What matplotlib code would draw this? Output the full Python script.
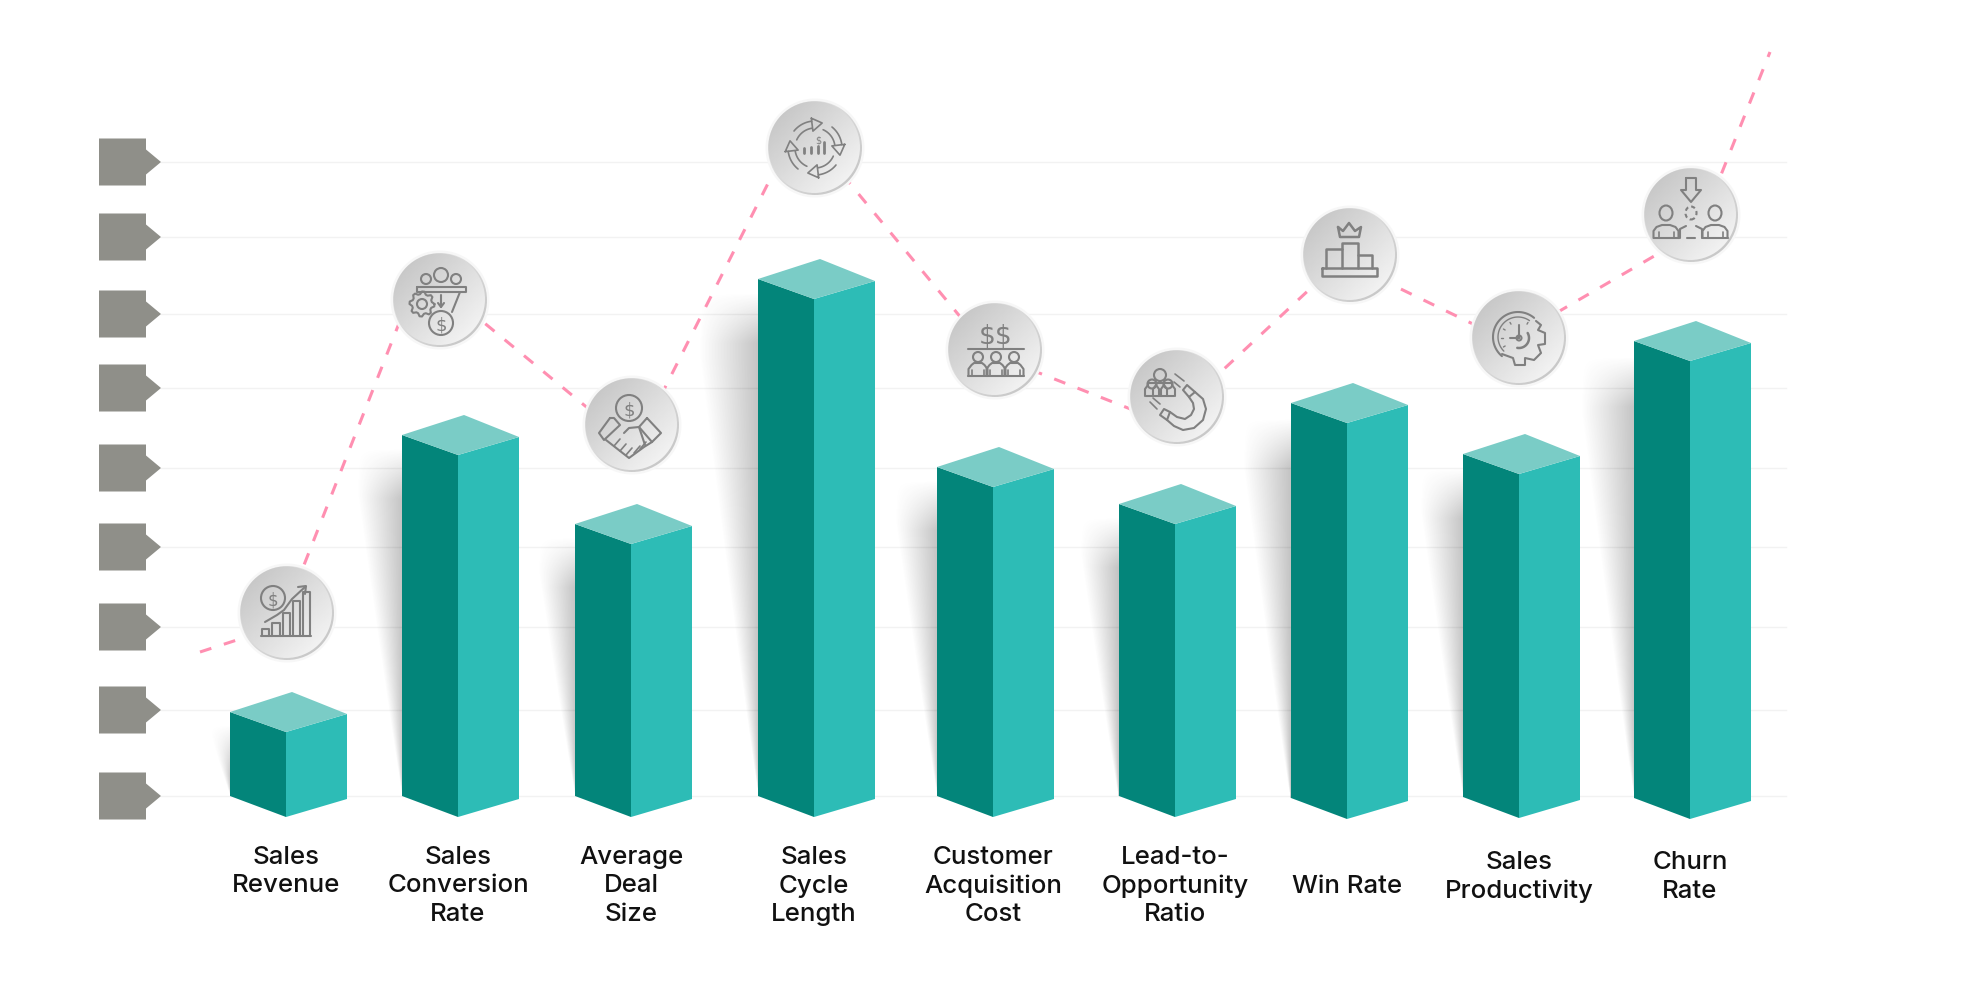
import numpy as np
import matplotlib

matplotlib.use("Agg")
import matplotlib.pyplot as plt
from matplotlib.patches import Circle, Ellipse, Polygon

# Chart units are pixels: x from the left edge, y as height above the bar base line
WIDTH = 1968
HEIGHT = 982
BASE_Y = 796

LABELS = [
    "Sales\nRevenue",
    "Sales\nConversion\nRate",
    "Average\nDeal\nSize",
    "Sales\nCycle\nLength",
    "Customer\nAcquisition\nCost",
    "Lead-to-\nOpportunity\nRatio",
    "Win Rate",
    "Sales\nProductivity",
    "Churn\nRate",
]
BAR_VALUES = [84, 361, 272, 517, 329, 292, 393, 342, 455]
BAR_LEFT = [230, 402, 575, 758, 937, 1119, 1291, 1463, 1634]
BAR_FLOOR = [0, 0, 0, 0, 0, 0, -2, -1, -2]
LABEL_FIRST_LINE = [-59, -59, -59, -59, -59, -59, -88, -64, -64]

GRID_VALUES = [0, 86, 169, 249, 328, 408, 482, 559, 634]

TREND_X = [200, 280, 420, 635, 799, 991, 1166, 1341, 1508, 1699, 1770]
TREND_Y = [144, 170, 526, 349, 674, 442, 373, 536, 455, 566, 744]

ICON_X = [287, 440, 632, 815, 995, 1177, 1350, 1519, 1691]
ICON_Y = [183, 496, 371, 648, 446, 399, 541, 458, 581]

COLOR_LEFT = "#03857a"
COLOR_RIGHT = "#2dbcb6"
COLOR_TOP = "#7accc6"
COLOR_TAG = "#8f8f89"
COLOR_TREND = "#ff8fb1"
COLOR_ICON = "#808080"
COLOR_TEXT = "#111111"

plt.rcParams["font.family"] = ["Inter", "DejaVu Sans"]

fig = plt.figure(figsize=(WIDTH / 100, HEIGHT / 100), dpi=100, facecolor="white")
ax = fig.add_axes([0, 0, 1, 1])


def draw_shadow(left, value, floor):
    """Мягкая тень слева от столбика: сужается к основанию."""
    width = 20 + 0.09 * (value - 83)
    height = value - 13
    xs = np.linspace(0, width, 60)
    hs = np.linspace(height, 0, 240)
    dx, h = np.meshgrid(xs, hs)
    t = h / height
    reach = width * np.clip(t * 1.15, 0, 1) ** 0.95
    fade = np.clip(1 - dx / np.maximum(reach, 0.01), 0, 1) ** 1.05
    top_fade = np.clip((1 - t) * height / 50, 0, 1)
    rgba = np.zeros((240, 60, 4))
    rgba[..., :3] = 0.25
    rgba[..., 3] = 0.31 * fade * top_fade
    ax.imshow(
        rgba[:, ::-1],
        extent=(left - width, left, floor, floor + height),
        aspect="auto",
        zorder=1,
        interpolation="bilinear",
    )


def draw_bar(left, value, floor):
    """Псевдо-3D столбик из трёх граней."""
    x_mid = left + 56
    x_right = left + 117
    x_apex = left + 62
    ax.fill(
        [left, x_mid, x_mid, left],
        [floor, floor - 21, value - 20, value],
        color=COLOR_LEFT, lw=0, zorder=3,
    )
    ax.fill(
        [x_mid, x_right, x_right, x_mid],
        [floor - 21, floor - 3, value - 2, value - 20],
        color=COLOR_RIGHT, lw=0, zorder=3,
    )
    ax.fill(
        [left, x_apex, x_right, x_mid],
        [value, value + 20, value - 2, value - 20],
        color=COLOR_TOP, lw=0, zorder=3,
    )


def draw_tag(value):
    """Серый ярлык-стрелка в начале линии сетки."""
    points = [
        (99, value + 23.5), (146, value + 23.5), (146, value + 12.5),
        (161, value), (146, value - 12.5), (146, value - 23.5), (99, value - 23.5),
    ]
    ax.add_patch(Polygon(points, closed=True, fc=COLOR_TAG, ec="none", zorder=2))


def gradient_disc(cx, cy, radius, start, stop, zorder):
    """Круг с диагональной заливкой от start (слева сверху) к stop."""
    grid = np.linspace(0, 1, 80)
    gx, gy = np.meshgrid(grid, grid)
    shade = start + (stop - start) * (gx + gy) / 2
    im = ax.imshow(
        shade,
        extent=(cx - radius, cx + radius, cy - radius, cy + radius),
        cmap="gray", vmin=0, vmax=1,
        aspect="auto", zorder=zorder, interpolation="bilinear",
    )
    im.set_clip_path(Circle((cx, cy), radius, transform=ax.transData))


class Icon:
    """Контурный значок; координаты заданы от центра, y вниз."""

    def __init__(self, cx, cy):
        self.cx = cx
        self.cy = cy

    def line(self, points, lw=1.5, closed=False, ls="-"):
        pts = np.array(points, dtype=float)
        if closed:
            pts = np.vstack([pts, pts[0]])
        ax.plot(
            self.cx + pts[:, 0], self.cy - pts[:, 1],
            color=COLOR_ICON, lw=lw, ls=ls,
            solid_capstyle="round", solid_joinstyle="round", zorder=7,
        )

    def ring(self, x, y, r, ry=None, lw=1.5, ls="-"):
        ax.add_patch(Ellipse(
            (self.cx + x, self.cy - y), 2 * r, 2 * (ry or r),
            fc="none", ec=COLOR_ICON, lw=lw, ls=ls, zorder=7,
        ))

    def arc(self, x, y, r, a1, a2, lw=1.5):
        # Углы в градусах, отсчёт по часовой стрелке от оси x
        a = np.radians(np.linspace(a1, a2, 40))
        self.line(np.column_stack([x + r * np.cos(a), y + r * np.sin(a)]), lw=lw)

    def dollar(self, x, y, size, text="$"):
        ax.text(
            self.cx + x, self.cy - y, text, parse_math=False,
            fontsize=size, color=COLOR_ICON, ha="center", va="center_baseline",
            family="DejaVu Sans", zorder=7,
        )

    def person(self, x, head_y, base_y, half, head=5, ry=None, ribs=True):
        self.ring(x, head_y, head, ry=ry)
        self.line([
            (x - half, base_y), (x - half, base_y - 7), (x - half + 3, base_y - 11),
            (x - 4, base_y - 13), (x + 4, base_y - 13), (x + half - 3, base_y - 11),
            (x + half, base_y - 7), (x + half, base_y),
        ])
        if ribs:
            self.line([(x - half * 0.6, base_y), (x - half * 0.6, base_y - 6)], lw=1.2)
            self.line([(x + half * 0.6, base_y), (x + half * 0.6, base_y - 6)], lw=1.2)


def icon_revenue(d):
    d.ring(-14, -15, 12)
    d.dollar(-14, -15, 12)
    for x0, x1, top in [(-25.5, -18, 16), (-15, -7.5, 10), (-4.5, 2.5, 0), (5.5, 12.5, -12), (15.5, 23, -21)]:
        d.line([(x0, 23), (x0, top), (x1, top), (x1, 23)])
    d.line([(-26, 23), (23.5, 23)])
    d.line([(-22, 9), (-10, 2), (-3, -3), (5, -14), (18, -26)])
    d.line([(11, -26), (19, -27), (18, -19)])


def icon_funnel(d):
    d.ring(-14, -21, 5)
    d.ring(1, -25, 7)
    d.ring(16, -21, 5)
    d.line([(-23, -13), (26, -13), (26, -8), (-23, -8)], closed=True)
    d.line([(20, -8), (12, 12)])
    d.line([(1, -5), (1, 7)])
    d.line([(-2, 3), (1, 7), (4, 3)])
    angles = np.radians(np.arange(0, 360, 11.25))
    radii = np.where(np.arange(32) % 4 < 2, 12.5, 10)
    d.line(np.column_stack([-18 + radii * np.cos(angles), 4 + radii * np.sin(angles)]), closed=True)
    d.ring(-18, 4, 5)
    d.ring(1, 23, 12)
    d.dollar(1, 23, 13)


def icon_handshake(d):
    d.ring(-3, -17, 13)
    d.dollar(-3, -17, 13)
    d.line([(-22, -7), (-33, 8), (-28, 15), (-12, 0), (-18, -7)], closed=True)
    d.line([(15, -7), (29, 8), (20, 17), (7, 2)], closed=True)
    d.line([(-26, 15), (-3, 33), (12, 22), (20, 17)])
    d.line([(-8, 8), (-3, 3), (7, 2), (13, 20)])
    for x, y in [(-18, 21), (-12, 26), (-6, 30), (2, 28), (8, 24)]:
        d.line([(x, y), (x + 6, y - 7)], lw=1.2)


def icon_cycle(d):
    # Четыре стрелки по кругу: внешняя и внутренняя дуги плюс наконечник
    for start in [-150, -60, 30, 120]:
        d.arc(0, 0, 27, start + 9, start + 53, lw=1.2)
        d.arc(0, 0, 20, start - 6, start + 51, lw=1.2)
        tip = np.radians(start + 76)
        back = np.radians(start + 53)
        ux, uy = np.cos(back), np.sin(back)
        d.line([
            (30 * ux, 30 * uy), (26 * np.cos(tip), 26 * np.sin(tip)), (17 * ux, 17 * uy),
        ], lw=1.2, closed=True)
    for x, top in [(-11, 0), (-4, -1), (3, -2), (9, -6)]:
        d.line([(x, 5), (x, top)], lw=2.0)
    d.dollar(3, -9, 7)


def icon_cost(d):
    d.dollar(0.5, -16, 19, text="$$")
    d.line([(-27, -1), (29, -1)])
    for x in [-17, 1, 19]:
        d.person(x, 7, 26, 9.5)
    d.line([(-27, 26), (29, 26)])


def icon_magnet(d):
    d.person(-17, -22, -1, 7, head=6, ribs=False)
    d.person(-25, -13, -1, 7, head=4.5, ribs=False)
    d.person(-9, -13, -1, 7, head=4.5, ribs=False)
    d.line([(-31, -1), (-3, -1)])
    d.line([
        (18, -5), (26, 2), (29, 12), (26, 23), (17, 31), (6, 33), (-3, 29), (-10, 23),
        (-17, 18), (-13, 12), (-7, 15), (0, 20), (8, 22), (14, 18), (17, 12), (16, 6),
        (12, 0), (6, -7), (10, -12),
    ], closed=True)
    d.line([(12, 0), (18, -5)])
    d.line([(-10, 23), (-7, 15)])
    d.line([(-2, -23), (7, -16)], lw=1.2)
    d.line([(-3, -15), (3, -10)], lw=1.2)
    d.line([(-27, 5), (-20, 12)], lw=1.2)
    d.line([(-24, 1), (-17, 7)], lw=1.2)


def icon_podium(d):
    d.line([(-12, -28), (-10, -18), (9, -18), (11, -28), (5, -24), (-1, -32), (-7, -24)], closed=True, lw=1.8)
    d.line([(-8, 13), (-8, -12), (8, -12), (8, 13)], lw=1.8)
    d.line([(-24, 13), (-24, -6), (-8, -6)], lw=1.8)
    d.line([(8, 0), (22, 0), (22, 13)], lw=1.8)
    d.line([(-28, 13), (27, 13), (27, 21), (-28, 21)], closed=True, lw=1.8)


def icon_productivity(d):
    d.arc(-1, -1, 25, -50, -230)
    d.arc(-1, -1, 20, -55, -225, lw=1.0)
    d.line([
        (17, -17), (22, -13), (19, -8), (26, -5), (26, 6), (19, 7), (22, 15),
        (15, 22), (6, 20), (6, 27), (-4, 27), (-6, 20), (-17, 16),
    ])
    d.arc(0, 0, 10, -30, 100, lw=1.8)
    d.line([(0, 0), (0, -13)])
    d.line([(0, 0), (-9, 0)])
    d.ring(0, 0, 2.5)
    for a in [-150, -120, -60, 180, 150]:
        rad = np.radians(a)
        d.line([(16 * np.cos(rad), 16 * np.sin(rad)), (18 * np.cos(rad), 18 * np.sin(rad))], lw=1.0)


def icon_churn(d):
    d.line([(-5, -37), (5, -37), (5, -25), (10, -25), (0, -13), (-10, -25), (-5, -25)], closed=True)
    d.person(-25, -2, 23, 12.5, head=6.5, ry=7.5)
    d.person(24, -2, 23, 12.5, head=6.5, ry=7.5)
    d.ring(0, -2, 5.5, ry=6.5, ls=(0, (2, 1.5)))
    d.line([(-11, 23), (-11, 14), (-5, 11)])
    d.line([(11, 23), (11, 14), (5, 11)])
    d.line([(-4, 23), (4, 23)])
    d.line([(-37, 23), (-12, 23)])
    d.line([(12, 23), (37, 23)])


ICON_DRAWERS = [
    icon_revenue, icon_funnel, icon_handshake, icon_cycle, icon_cost,
    icon_magnet, icon_podium, icon_productivity, icon_churn,
]

# Линии сетки и ярлыки
for value in GRID_VALUES:
    ax.plot([161, 1786], [value, value], color="black", alpha=0.05, lw=1.0, zorder=2)
    draw_tag(value)

# Столбики с тенями
for left, value, floor in zip(BAR_LEFT, BAR_VALUES, BAR_FLOOR):
    draw_shadow(left, value, floor)
    draw_bar(left, value, floor)

# Пунктирная линия под значками
ax.plot(
    TREND_X, TREND_Y,
    color=COLOR_TREND, lw=2.2, ls=(0, (3.9, 4.3)),
    dash_capstyle="butt", zorder=4,
)

# Круглые значки
for x, y, drawer in zip(ICON_X, ICON_Y, ICON_DRAWERS):
    ax.add_patch(Circle((x, y), 49.5, fc="#f7f7f7", ec="none", zorder=5))
    gradient_disc(x, y, 47, 0.93, 0.76, 5.1)
    gradient_disc(x - 0.8, y + 0.8, 45.8, 0.75, 0.98, 5.2)
    drawer(Icon(x, y))

# Подписи категорий
for left, line_y, label in zip(BAR_LEFT, LABEL_FIRST_LINE, LABELS):
    for i, text in enumerate(label.split("\n")):
        ax.text(
            left + 56, line_y - 28.5 * i, text,
            ha="center", va="center_baseline",
            fontsize=18.6, fontweight="medium", color=COLOR_TEXT, zorder=8,
        )

ax.set_xlim(0, WIDTH)
ax.set_ylim(BASE_Y - HEIGHT, BASE_Y)
ax.axis("off")

fig.savefig("out.png", dpi=100, facecolor="white")
plt.close(fig)
